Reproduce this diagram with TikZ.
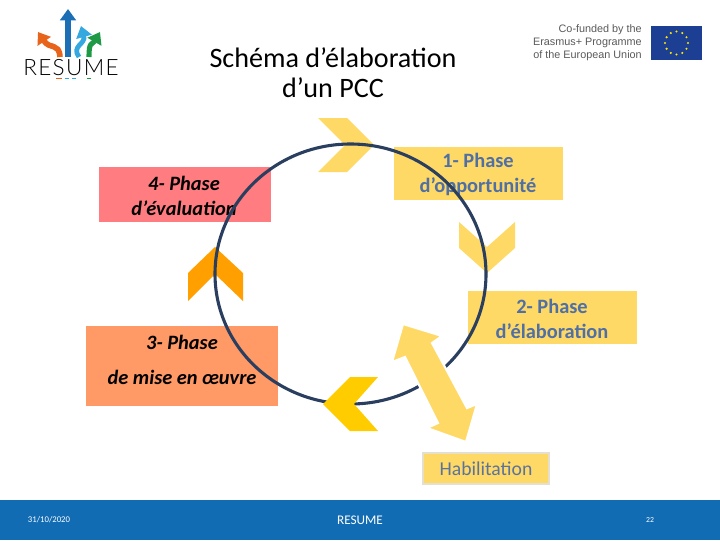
\documentclass[tikz,border=0pt]{standalone}
\usepackage{fontspec}
\setmainfont{Carlito}
\newfontfamily\eufont{Liberation Sans}
\newfontfamily\logofont[LetterSpace=6]{Lato Light}
\usepackage{xcolor}
\usetikzlibrary{arrows.meta}
\definecolor{paleyellow}{HTML}{FFD966}
\definecolor{deepyellow}{HTML}{FFCC00}
\definecolor{amber}{HTML}{FF9F00}
\definecolor{salmon}{HTML}{FF7C80}
\definecolor{peach}{HTML}{FF9966}
\definecolor{ringblue}{HTML}{2A3F5F}
\definecolor{phaseblue}{HTML}{4F6FA5}
\definecolor{footblue}{HTML}{116CB3}
\definecolor{eublue}{HTML}{1C3F94}
\definecolor{logoorange}{HTML}{E8641B}
\definecolor{logoblue}{HTML}{1C6FB5}
\definecolor{logosky}{HTML}{35A8E0}
\definecolor{logogreen}{HTML}{1E9A46}

\begin{document}
\begin{tikzpicture}[
    x=0.025cm, y=-0.025cm,
    every node/.style={align=center},
    phase/.style={inner sep=0pt, text=phaseblue, font=\fontsize{14.5}{17.5}\selectfont\bfseries},
    redphase/.style={inner sep=0pt, text=black, font=\fontsize{14.5}{17.5}\selectfont\bfseries\itshape},
    footer/.style={inner sep=0pt, text=white},
    eutext/.style={anchor=east, inner sep=0pt, text=black!65, font=\fontsize{7.7}{10}\selectfont\eufont},
    chevron/.style={fill=paleyellow},
    logoarrow/.style={line width=4pt, -{Triangle[length=8pt, width=11pt]}}
]
\useasboundingbox (0,0) rectangle (720,540);

% Footer
\fill[footblue] (0,500) rectangle (720,540);
\node[footer, font=\fontsize{6.2}{7}\selectfont] (date) at (49,520) {31/10/2020};
\node[footer, font=\fontsize{9.4}{11}\selectfont] (project) at (360,520) {RESUME};
\node[footer, font=\fontsize{5.5}{6}\selectfont] (page) at (650,520) {22};

% Logo
\draw[logoarrow, line width=4.7pt, logoblue] (68,57) -- (68,9);
\draw[logoarrow, logoorange] (60,57) .. controls (59,42) and (50,50) .. (38,32);
\draw[logoarrow, line width=3.4pt, logosky] (79,57) .. controls (71,46) and (86,44) .. (81,26);
\draw[logoarrow, line width=3.6pt, logogreen] (89,57) .. controls (89,40) and (92,46) .. (100,32);
\node[inner sep=0pt, font=\fontsize{16}{18}\selectfont\logofont] (logo) at (71,68) {RESUME};
\fill[logoorange] (56,77.5) rectangle (62,78.5);
\fill[logosky] (65,77.5) rectangle (69,78.5);
\fill[logosky] (72,77.5) rectangle (76,78.5);
\fill[logogreen] (87,77.5) rectangle (91,78.5);

% EU label
\node[eutext] (cofund) at (642,30) {Co-funded by the};
\node[eutext] (erasmus) at (642,43) {Erasmus+ Programme};
\node[eutext] (union) at (642,56) {of the European Union};
\fill[eublue] (651,26) rectangle (702,60);
\foreach \a in {0,30,...,330}
    \fill[yellow!90!orange] (676.5,43) ++(\a:11.5) circle (1.2);

% Title
\node[inner sep=0pt, font=\fontsize{20}{21.5}\selectfont] (title) at (333,73) {Schéma d’élaboration\\d’un PCC};

% Phases
\fill[paleyellow] (394,147) rectangle (563,200);
\node[phase] (opportunity) at (478,174.5) {1- Phase\\d’opportunité};
\fill[paleyellow] (468,291) rectangle (637,344);
\node[phase] (development) at (552,319) {2- Phase\\d’élaboration};
\fill[peach] (86,326) rectangle (278,406);
\node[redphase] (rollout) at (182,360) {3- Phase\\[7.5pt]de mise en œuvre};
\fill[salmon] (99,167) rectangle (271,222);
\node[redphase] (review) at (184,196) {4- Phase\\d’évaluation};

\draw[draw=black!12!white!85!paleyellow, line width=1.6pt, fill=paleyellow] (423,453) rectangle (549,484);
\node[inner sep=0pt, text=phaseblue!75!gray, font=\fontsize{14}{17}\selectfont] (licence) at (486,469) {Habilitation};

% Chevrons under the ring
\fill[chevron] (318,118) -- (347,118) -- (374,145) -- (347,172) -- (318,172) -- (345,145) -- cycle;
\fill[chevron] (459,222) -- (487,247) -- (515,222) -- (515,248) -- (487,273) -- (459,248) -- cycle;
\fill[amber] (188,273) -- (215,247) -- (243,273) -- (243,301) -- (215,274) -- (188,301) -- cycle;

% Ring
\draw[ringblue, line width=2.2pt] (350.5,274) ellipse (135.5 and 130);

% Over the ring
\fill[deepyellow] (378,377) -- (350,377) -- (323,404) -- (350,431) -- (378,431) -- (354,404) -- cycle;
\draw[draw=white, line width=1.5pt, fill=paleyellow] (403,324) -- (442,336) -- (432,343) -- (467,408) -- (477,404) -- (466,442) -- (427,428) -- (438,423) -- (405,357) -- (392,362) -- cycle;

\end{tikzpicture}
\end{document}
